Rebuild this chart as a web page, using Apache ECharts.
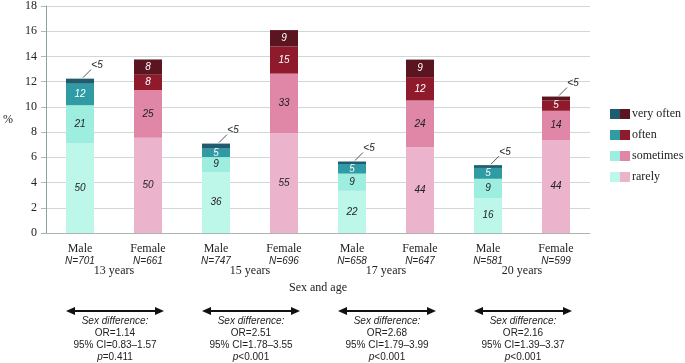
<!DOCTYPE html>
<html>
<head>
<meta charset="utf-8">
<script src="https://cdn.jsdelivr.net/npm/echarts@6/dist/echarts.min.js"></script>
<style>
html, body { margin: 0; padding: 0; background: #fff; }
#chart { width: 685px; height: 363px; }
</style>
</head>
<body>
<div id="chart"></div>
<script>
// 分类与样本量
var sexes = ['Male', 'Female', 'Male', 'Female', 'Male', 'Female', 'Male', 'Female'];
var nValues = [701, 661, 747, 696, 658, 647, 581, 599];
var ageGroups = ['13 years', '15 years', '17 years', '20 years'];

// 各频率的百分比 (柱高)
var rarely    = [7.13, 7.56, 4.82, 7.90, 3.34, 6.80, 2.75, 7.35];
var sometimes = [3.00, 3.78, 1.20, 4.74, 1.37, 3.71, 1.55, 2.34];
var often     = [1.71, 1.21, 0.67, 2.16, 0.76, 1.85, 0.86, 0.83];
var veryOften = [0.40, 1.21, 0.40, 1.29, 0.20, 1.39, 0.22, 0.30];

// 柱内标注 (人数)
var rarelyN    = ['50', '50', '36', '55', '22', '44', '16', '44'];
var sometimesN = ['21', '25', '9', '33', '9', '24', '9', '14'];
var oftenN     = ['12', '8', '5', '15', '5', '12', '5', '5'];
var veryOftenN = ['<5', '8', '<5', '9', '<5', '9', '<5', '<5'];

// 性别差异统计
var orValues = ['1.14', '2.51', '2.68', '2.16'];
var ciValues = ['0.83–1.57', '1.78–3.55', '1.79–3.99', '1.39–3.37'];
var pValues  = ['=0.411', '<0.001', '<0.001', '<0.001'];

var maleColors   = ['#bcf7ea', '#9eeee0', '#2e9ba5', '#1f5c6e'];
var femaleColors = ['#ecb3cd', '#e087a8', '#8e1a2c', '#5a1520'];
var seriesNames  = ['rarely', 'sometimes', 'often', 'very often'];

var serif = '"Liberation Serif", "DejaVu Serif", serif';
var sans = '"Liberation Sans", Arial, sans-serif';

var chart = echarts.init(document.getElementById('chart'));

function makeSeries(k, vals, labels) {
    var dark = k >= 2;
    return {
        name: seriesNames[k],
        type: 'bar',
        stack: 'total',
        barWidth: 28,
        xAxisIndex: 0,
        itemStyle: { color: maleColors[k] },
        label: {
            show: true,
            position: 'inside',
            fontFamily: sans,
            fontStyle: 'italic',
            fontSize: 10,
            color: dark ? '#fff' : '#222',
            formatter: function (p) { return labels[p.dataIndex]; }
        },
        data: vals.map(function (v, i) {
            var item = {
                value: v,
                itemStyle: { color: i % 2 ? femaleColors[k] : maleColors[k] }
            };
            if (labels[i] === '<5') {
                item.label = { position: 'top', offset: [17, -3], color: '#222' };
            }
            return item;
        })
    };
}

// 图例: 两个色块 (男/女) + 文字
var legendRich = { t: { fontFamily: serif, fontSize: 12, color: '#222', padding: [0, 0, 0, 2] } };
seriesNames.forEach(function (n, k) {
    legendRich['m' + k] = { width: 10, height: 10, backgroundColor: maleColors[k] };
    legendRich['f' + k] = { width: 10, height: 10, backgroundColor: femaleColors[k] };
});

var option = {
    animation: false,
    grid: { left: 39, right: 95, top: 5, bottom: 130 },
    legend: {
        orient: 'vertical',
        left: 605,
        top: 108,
        padding: 0,
        itemWidth: 0,
        itemHeight: 10,
        itemGap: 9,
        data: ['very often', 'often', 'sometimes', 'rarely'],
        formatter: function (name) {
            var k = seriesNames.indexOf(name);
            return '{m' + k + '|}{f' + k + '|}{t|' + name + '}';
        },
        textStyle: { rich: legendRich }
    },
    xAxis: [
        {
            type: 'category',
            position: 'bottom',
            data: sexes,
            axisLine: { lineStyle: { color: '#a9b7b7' } },
            axisTick: { length: 22, interval: 0, lineStyle: { color: '#a9b7b7' } },
            axisLabel: {
                interval: 0,
                margin: 9,
                formatter: function (v, i) {
                    return '{s|' + v + '}\n{n|N=' + nValues[i] + '}';
                },
                rich: {
                    s: { fontFamily: serif, fontSize: 12, color: '#222', lineHeight: 13 },
                    n: { fontFamily: sans, fontStyle: 'italic', fontSize: 10, color: '#222', lineHeight: 12 }
                }
            }
        },
        {
            type: 'category',
            position: 'bottom',
            data: ageGroups,
            axisLine: { show: false },
            axisTick: { length: 45, interval: 0, lineStyle: { color: '#a9b7b7' } },
            axisLabel: { margin: 32, fontFamily: serif, fontSize: 12, color: '#222' },
            name: 'Sex and age',
            nameLocation: 'middle',
            nameGap: 48,
            nameTextStyle: { fontFamily: serif, fontSize: 12, color: '#222' }
        }
    ],
    yAxis: {
        type: 'value',
        min: 0,
        max: 18,
        interval: 2,
        name: '%',
        nameLocation: 'middle',
        nameRotate: 0,
        nameGap: 33,
        nameTextStyle: { fontFamily: serif, fontSize: 12, color: '#222' },
        axisLine: { show: true, lineStyle: { color: '#8fa3a3' } },
        axisTick: { show: true, length: 5, lineStyle: { color: '#a9b7b7' } },
        axisLabel: { margin: 9, fontFamily: serif, fontSize: 12, color: '#222' },
        splitLine: { lineStyle: { color: '#cfd8d8' } }
    },
    series: [
        makeSeries(0, rarely, rarelyN),
        makeSeries(1, sometimes, sometimesN),
        makeSeries(2, often, oftenN),
        makeSeries(3, veryOften, veryOftenN)
    ]
};
chart.setOption(option);

// 引线与底部注释
var gfx = [];
veryOftenN.forEach(function (lab, i) {
    if (lab !== '<5') return;
    var total = rarely[i] + sometimes[i] + often[i] + veryOften[i];
    var pt = chart.convertToPixel({ xAxisIndex: 0, yAxisIndex: 0 }, [i, total]);
    gfx.push({
        type: 'line',
        shape: { x1: pt[0] + 3, y1: pt[1] - 1, x2: pt[0] + 11, y2: pt[1] - 9 },
        style: { stroke: '#555', lineWidth: 1 }
    });
});

ageGroups.forEach(function (g, k) {
    var cx = chart.convertToPixel({ xAxisIndex: 1 }, g) + 1;
    var ay = 311;
    gfx.push({
        type: 'line',
        shape: { x1: cx - 42, y1: ay, x2: cx + 42, y2: ay },
        style: { stroke: '#111', lineWidth: 2 }
    });
    gfx.push({
        type: 'polygon',
        shape: { points: [[cx - 49, ay], [cx - 40, ay - 4], [cx - 40, ay + 4]] },
        style: { fill: '#111' }
    });
    gfx.push({
        type: 'polygon',
        shape: { points: [[cx + 49, ay], [cx + 40, ay - 4], [cx + 40, ay + 4]] },
        style: { fill: '#111' }
    });
    var lines = [
        { t: 'Sex difference:', y: 321, italic: true },
        { t: 'OR=' + orValues[k], y: 333 },
        { t: '95% CI=' + ciValues[k], y: 345.5 },
        { t: '{i|p}' + pValues[k], y: 357.5 }
    ];
    lines.forEach(function (ln) {
        gfx.push({
            type: 'text',
            style: {
                text: ln.t,
                x: cx,
                y: ln.y,
                align: 'center',
                verticalAlign: 'middle',
                fontFamily: sans,
                fontSize: 10,
                fontStyle: ln.italic ? 'italic' : 'normal',
                fill: '#222',
                rich: { i: { fontFamily: sans, fontSize: 10, fontStyle: 'italic', fill: '#222' } }
            }
        });
    });
});
chart.setOption({ graphic: gfx });
</script>
</body>
</html>
